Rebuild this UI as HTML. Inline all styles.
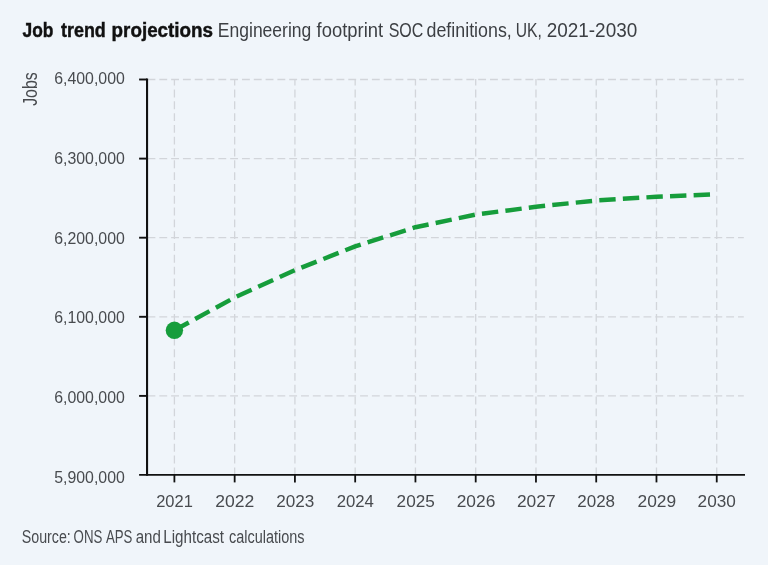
<!DOCTYPE html>
<html><head><meta charset="utf-8"><title>Job trend projections</title>
<style>
html,body{margin:0;padding:0;background:#f0f5fa;}
body{width:768px;height:565px;overflow:hidden;font-family:"Liberation Sans",sans-serif;}
svg{display:block;will-change:transform;}
text{font-family:"Liberation Sans",sans-serif;}
</style></head><body>
<svg width="768" height="565" viewBox="0 0 768 565">
<rect x="0" y="0" width="768" height="565" fill="#f0f5fa"/>

<g stroke="#d2d5da" stroke-width="1.3" stroke-dasharray="7.87 3.94" fill="none">
<line x1="147.5" y1="79.50" x2="743.8" y2="79.50"/>
<line x1="147.5" y1="158.60" x2="743.8" y2="158.60"/>
<line x1="147.5" y1="237.70" x2="743.8" y2="237.70"/>
<line x1="147.5" y1="316.80" x2="743.8" y2="316.80"/>
<line x1="147.5" y1="395.90" x2="743.8" y2="395.90"/>
<line x1="174.40" y1="78.90" x2="174.40" y2="474" stroke-dashoffset="1.2"/>
<line x1="234.66" y1="78.90" x2="234.66" y2="474" stroke-dashoffset="1.2"/>
<line x1="294.92" y1="78.90" x2="294.92" y2="474" stroke-dashoffset="1.2"/>
<line x1="355.18" y1="78.90" x2="355.18" y2="474" stroke-dashoffset="1.2"/>
<line x1="415.44" y1="78.90" x2="415.44" y2="474" stroke-dashoffset="1.2"/>
<line x1="475.70" y1="78.90" x2="475.70" y2="474" stroke-dashoffset="1.2"/>
<line x1="535.96" y1="78.90" x2="535.96" y2="474" stroke-dashoffset="1.2"/>
<line x1="596.22" y1="78.90" x2="596.22" y2="474" stroke-dashoffset="1.2"/>
<line x1="656.48" y1="78.90" x2="656.48" y2="474" stroke-dashoffset="1.2"/>
<line x1="716.74" y1="78.90" x2="716.74" y2="474" stroke-dashoffset="1.2"/>
</g>
<g stroke="#111111" fill="none">
<line x1="147.05" y1="78.55" x2="147.05" y2="475.8" stroke-width="2.1"/>
<line x1="139.1" y1="474.85" x2="745" y2="474.85" stroke-width="1.9"/>
<line x1="139.1" y1="79.50" x2="147" y2="79.50" stroke-width="1.9"/>
<line x1="139.1" y1="158.60" x2="147" y2="158.60" stroke-width="1.9"/>
<line x1="139.1" y1="237.70" x2="147" y2="237.70" stroke-width="1.9"/>
<line x1="139.1" y1="316.80" x2="147" y2="316.80" stroke-width="1.9"/>
<line x1="139.1" y1="395.90" x2="147" y2="395.90" stroke-width="1.9"/>
<line x1="174.40" y1="475" x2="174.40" y2="482.4" stroke-width="1.8"/>
<line x1="234.66" y1="475" x2="234.66" y2="482.4" stroke-width="1.8"/>
<line x1="294.92" y1="475" x2="294.92" y2="482.4" stroke-width="1.8"/>
<line x1="355.18" y1="475" x2="355.18" y2="482.4" stroke-width="1.8"/>
<line x1="415.44" y1="475" x2="415.44" y2="482.4" stroke-width="1.8"/>
<line x1="475.70" y1="475" x2="475.70" y2="482.4" stroke-width="1.8"/>
<line x1="535.96" y1="475" x2="535.96" y2="482.4" stroke-width="1.8"/>
<line x1="596.22" y1="475" x2="596.22" y2="482.4" stroke-width="1.8"/>
<line x1="656.48" y1="475" x2="656.48" y2="482.4" stroke-width="1.8"/>
<line x1="716.74" y1="475" x2="716.74" y2="482.4" stroke-width="1.8"/>
</g>
<defs><filter id="gs" x="0" y="0" width="768" height="565" filterUnits="userSpaceOnUse" color-interpolation-filters="sRGB"><feOffset dx="0" dy="0"/></filter></defs>
<g filter="url(#gs)">
<text x="22.49" y="36.9" font-size="20.3" font-weight="bold" fill="#111111" stroke="#111111" stroke-width="0.45" textLength="30.88" lengthAdjust="spacingAndGlyphs">Job</text>
<text x="61.00" y="36.9" font-size="20.3" font-weight="bold" fill="#111111" stroke="#111111" stroke-width="0.45" textLength="44.79" lengthAdjust="spacingAndGlyphs">trend</text>
<text x="111.61" y="36.9" font-size="20.3" font-weight="bold" fill="#111111" stroke="#111111" stroke-width="0.45" textLength="101.39" lengthAdjust="spacingAndGlyphs">projections</text>
<text x="217.85" y="36.9" font-size="20.3" font-weight="normal" fill="#3c3f43" textLength="93.44" lengthAdjust="spacingAndGlyphs">Engineering</text>
<text x="316.58" y="36.9" font-size="20.3" font-weight="normal" fill="#3c3f43" textLength="66.51" lengthAdjust="spacingAndGlyphs">footprint</text>
<text x="388.66" y="36.9" font-size="20.3" font-weight="normal" fill="#3c3f43" textLength="34.67" lengthAdjust="spacingAndGlyphs">SOC</text>
<text x="426.55" y="36.9" font-size="20.3" font-weight="normal" fill="#3c3f43" textLength="85.21" lengthAdjust="spacingAndGlyphs">definitions,</text>
<text x="515.68" y="36.9" font-size="20.3" font-weight="normal" fill="#3c3f43" textLength="26.20" lengthAdjust="spacingAndGlyphs">UK,</text>
<text x="546.68" y="36.9" font-size="20.3" font-weight="normal" fill="#3c3f43" textLength="90.59" lengthAdjust="spacingAndGlyphs">2021-2030</text>
<text x="21.72" y="542.5" font-size="18.3" font-weight="normal" fill="#484b4f" textLength="49.08" lengthAdjust="spacingAndGlyphs">Source:</text>
<text x="73.62" y="542.5" font-size="18.3" font-weight="normal" fill="#484b4f" textLength="28.76" lengthAdjust="spacingAndGlyphs">ONS</text>
<text x="105.94" y="542.5" font-size="18.3" font-weight="normal" fill="#484b4f" textLength="26.46" lengthAdjust="spacingAndGlyphs">APS</text>
<text x="135.72" y="542.5" font-size="18.3" font-weight="normal" fill="#484b4f" textLength="25.22" lengthAdjust="spacingAndGlyphs">and</text>
<text x="163.28" y="542.5" font-size="18.3" font-weight="normal" fill="#484b4f" textLength="60.72" lengthAdjust="spacingAndGlyphs">Lightcast</text>
<text x="229.03" y="542.5" font-size="18.3" font-weight="normal" fill="#484b4f" textLength="75.54" lengthAdjust="spacingAndGlyphs">calculations</text>
<text x="54.15" y="83.6" font-size="16.9" font-weight="normal" fill="#484b4f" textLength="70.70" lengthAdjust="spacingAndGlyphs">6,400,000</text>
<text x="54.15" y="163.8" font-size="16.9" font-weight="normal" fill="#484b4f" textLength="70.70" lengthAdjust="spacingAndGlyphs">6,300,000</text>
<text x="54.15" y="243.5" font-size="16.9" font-weight="normal" fill="#484b4f" textLength="70.70" lengthAdjust="spacingAndGlyphs">6,200,000</text>
<text x="54.15" y="323.3" font-size="16.9" font-weight="normal" fill="#484b4f" textLength="70.70" lengthAdjust="spacingAndGlyphs">6,100,000</text>
<text x="54.15" y="402.9" font-size="16.9" font-weight="normal" fill="#484b4f" textLength="70.70" lengthAdjust="spacingAndGlyphs">6,000,000</text>
<text x="54.13" y="483.0" font-size="16.9" font-weight="normal" fill="#484b4f" textLength="70.71" lengthAdjust="spacingAndGlyphs">5,900,000</text>
<text x="156.16" y="506.6" font-size="16.9" font-weight="normal" fill="#484b4f" textLength="36.69" lengthAdjust="spacingAndGlyphs">2021</text>
<text x="215.23" y="506.6" font-size="16.9" font-weight="normal" fill="#484b4f" textLength="39.10" lengthAdjust="spacingAndGlyphs">2022</text>
<text x="276.15" y="506.6" font-size="16.9" font-weight="normal" fill="#484b4f" textLength="38.13" lengthAdjust="spacingAndGlyphs">2023</text>
<text x="336.66" y="506.6" font-size="16.9" font-weight="normal" fill="#484b4f" textLength="37.25" lengthAdjust="spacingAndGlyphs">2024</text>
<text x="396.62" y="506.6" font-size="16.9" font-weight="normal" fill="#484b4f" textLength="38.22" lengthAdjust="spacingAndGlyphs">2025</text>
<text x="456.70" y="506.6" font-size="16.9" font-weight="normal" fill="#484b4f" textLength="38.59" lengthAdjust="spacingAndGlyphs">2026</text>
<text x="516.98" y="506.6" font-size="16.9" font-weight="normal" fill="#484b4f" textLength="38.62" lengthAdjust="spacingAndGlyphs">2027</text>
<text x="577.29" y="506.6" font-size="16.9" font-weight="normal" fill="#484b4f" textLength="37.78" lengthAdjust="spacingAndGlyphs">2028</text>
<text x="637.57" y="506.6" font-size="16.9" font-weight="normal" fill="#484b4f" textLength="38.62" lengthAdjust="spacingAndGlyphs">2029</text>
<text x="697.62" y="506.6" font-size="16.9" font-weight="normal" fill="#484b4f" textLength="38.22" lengthAdjust="spacingAndGlyphs">2030</text>
<text transform="translate(37.4,105.8) rotate(-90)" font-size="19.6" fill="#484b4f" textLength="33.4" lengthAdjust="spacingAndGlyphs">Jobs</text>
</g>
<path d="M174.40,330.30 L234.66,297.50 L294.92,270.20 L355.18,246.40 L415.44,227.20 L475.70,214.60 L535.96,206.75 L596.22,200.50 L656.48,196.75 L716.74,194.30" fill="none" stroke="#169d3b" stroke-width="4.45" stroke-dasharray="16.4 7.22" stroke-linejoin="round"/>
<circle cx="174.40" cy="330.30" r="8.7" fill="#169d3b"/>
</svg></body></html>
